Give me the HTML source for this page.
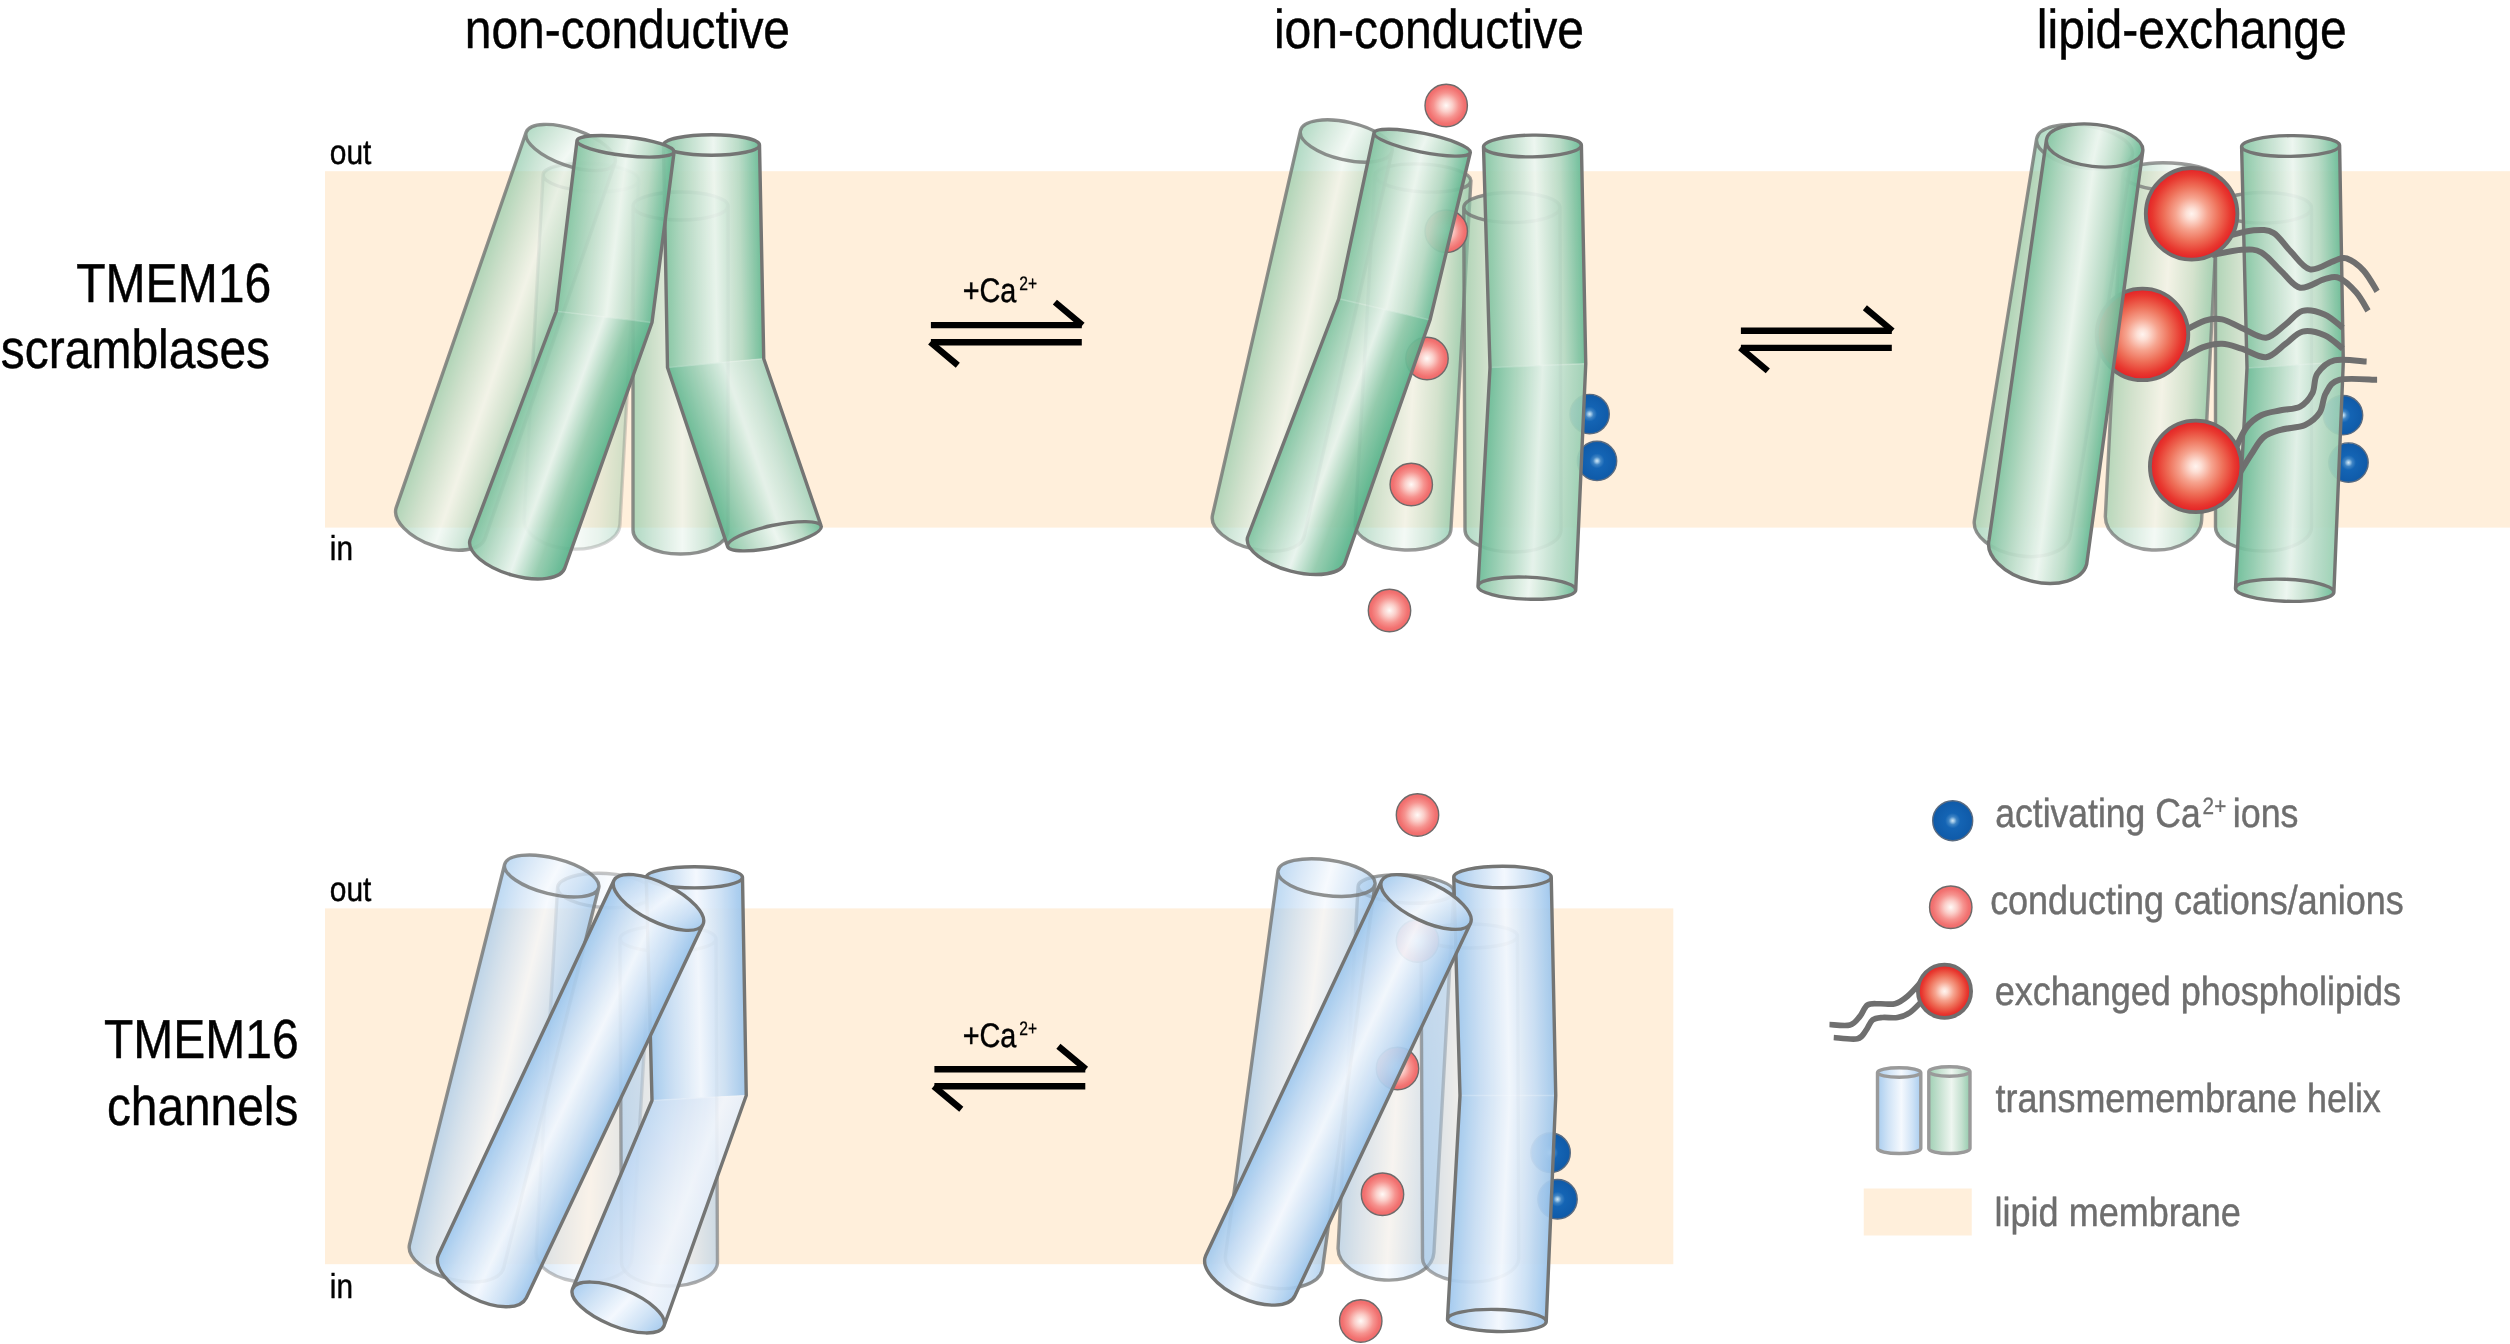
<!DOCTYPE html>
<html lang="en"><head><meta charset="utf-8"><title>TMEM16 scramblases and channels</title>
<style>html,body{margin:0;padding:0;background:#fff;}body{width:2510px;height:1344px;overflow:hidden;font-family:"Liberation Sans",sans-serif;}svg{display:block;}</style></head>
<body>
<svg width="2510" height="1344" viewBox="0 0 2510 1344" font-family="'Liberation Sans', sans-serif">
<defs>
<radialGradient id="pink" cx="0.5" cy="0.5" r="0.5"><stop offset="0" stop-color="#fffaf7"/><stop offset="0.3" stop-color="#fbcfca"/><stop offset="0.6" stop-color="#f6938f"/><stop offset="0.85" stop-color="#f27271"/><stop offset="1" stop-color="#f06a6a"/></radialGradient>
<radialGradient id="blue" cx="0.5" cy="0.5" r="0.5"><stop offset="0" stop-color="#cfe6f5"/><stop offset="0.08" stop-color="#9dc6e6"/><stop offset="0.2" stop-color="#3f84c4"/><stop offset="0.38" stop-color="#1464b4"/><stop offset="1" stop-color="#0f5aa8"/></radialGradient>
<radialGradient id="red" cx="0.5" cy="0.5" r="0.5"><stop offset="0" stop-color="#fff4ef"/><stop offset="0.12" stop-color="#fde0d6"/><stop offset="0.35" stop-color="#f6a48f"/><stop offset="0.6" stop-color="#ee6f58"/><stop offset="0.85" stop-color="#e8382f"/><stop offset="1" stop-color="#e41f26"/></radialGradient>
<linearGradient id="g1" gradientUnits="userSpaceOnUse" x1="533.57" y1="347.11" x2="629.43" y2="352.39"><stop offset="0" stop-color="#84c6a3"/><stop offset="0.22" stop-color="#b4d9c3"/><stop offset="0.52" stop-color="#ecf6ef"/><stop offset="0.78" stop-color="#b6dac4"/><stop offset="1" stop-color="#66ba94"/></linearGradient>
<linearGradient id="g2" gradientUnits="userSpaceOnUse" x1="543.07" y1="174.86" x2="638.93" y2="180.14"><stop offset="0" stop-color="#84c6a3"/><stop offset="0.22" stop-color="#b4d9c3"/><stop offset="0.52" stop-color="#ecf6ef"/><stop offset="0.78" stop-color="#b6dac4"/><stop offset="1" stop-color="#66ba94"/></linearGradient>
<linearGradient id="g3" gradientUnits="userSpaceOnUse" x1="461.19" y1="319.87" x2="550.01" y2="350.63"><stop offset="0" stop-color="#84c6a3"/><stop offset="0.22" stop-color="#b4d9c3"/><stop offset="0.52" stop-color="#ecf6ef"/><stop offset="0.78" stop-color="#b6dac4"/><stop offset="1" stop-color="#66ba94"/></linearGradient>
<linearGradient id="g4" gradientUnits="userSpaceOnUse" x1="526.19" y1="132.12" x2="615.01" y2="162.88"><stop offset="0" stop-color="#84c6a3"/><stop offset="0.22" stop-color="#b4d9c3"/><stop offset="0.52" stop-color="#ecf6ef"/><stop offset="0.78" stop-color="#b6dac4"/><stop offset="1" stop-color="#66ba94"/></linearGradient>
<linearGradient id="g5" gradientUnits="userSpaceOnUse" x1="633" y1="368" x2="728" y2="368"><stop offset="0" stop-color="#84c6a3"/><stop offset="0.22" stop-color="#b4d9c3"/><stop offset="0.52" stop-color="#ecf6ef"/><stop offset="0.78" stop-color="#b6dac4"/><stop offset="1" stop-color="#66ba94"/></linearGradient>
<linearGradient id="g6" gradientUnits="userSpaceOnUse" x1="633" y1="206" x2="728" y2="206"><stop offset="0" stop-color="#84c6a3"/><stop offset="0.22" stop-color="#b4d9c3"/><stop offset="0.52" stop-color="#ecf6ef"/><stop offset="0.78" stop-color="#b6dac4"/><stop offset="1" stop-color="#66ba94"/></linearGradient>
<linearGradient id="g7" gradientUnits="userSpaceOnUse" x1="665.41" y1="254.97" x2="761.72" y2="253.15"><stop offset="0" stop-color="#84c6a3"/><stop offset="0.22" stop-color="#b4d9c3"/><stop offset="0.52" stop-color="#ecf6ef"/><stop offset="0.78" stop-color="#b6dac4"/><stop offset="1" stop-color="#66ba94"/></linearGradient>
<linearGradient id="g8" gradientUnits="userSpaceOnUse" x1="699.43" y1="465.15" x2="790.57" y2="434.22"><stop offset="0" stop-color="#63b891"/><stop offset="0.3" stop-color="#a4d3ba"/><stop offset="0.58" stop-color="#e4f2ea"/><stop offset="0.8" stop-color="#c8e3d4"/><stop offset="1" stop-color="#a6d4bc"/></linearGradient>
<linearGradient id="g9" gradientUnits="userSpaceOnUse" x1="663.5" y1="145" x2="759.5" y2="145"><stop offset="0" stop-color="#84c6a3"/><stop offset="0.22" stop-color="#b4d9c3"/><stop offset="0.52" stop-color="#ecf6ef"/><stop offset="0.78" stop-color="#b6dac4"/><stop offset="1" stop-color="#66ba94"/></linearGradient>
<linearGradient id="g10" gradientUnits="userSpaceOnUse" x1="727.5" y1="546.25" x2="821.25" y2="526.25"><stop offset="0" stop-color="#84c6a3"/><stop offset="0.22" stop-color="#b4d9c3"/><stop offset="0.52" stop-color="#ecf6ef"/><stop offset="0.78" stop-color="#b6dac4"/><stop offset="1" stop-color="#66ba94"/></linearGradient>
<linearGradient id="g11" gradientUnits="userSpaceOnUse" x1="566.68" y1="225.54" x2="663" y2="237.64"><stop offset="0" stop-color="#84c6a3"/><stop offset="0.22" stop-color="#b4d9c3"/><stop offset="0.52" stop-color="#ecf6ef"/><stop offset="0.78" stop-color="#b6dac4"/><stop offset="1" stop-color="#66ba94"/></linearGradient>
<linearGradient id="g12" gradientUnits="userSpaceOnUse" x1="514.96" y1="418.54" x2="606.67" y2="452.08"><stop offset="0" stop-color="#7fc4a1"/><stop offset="0.22" stop-color="#b0d8c1"/><stop offset="0.5" stop-color="#e8f4ed"/><stop offset="0.75" stop-color="#90caab"/><stop offset="1" stop-color="#57b48b"/></linearGradient>
<linearGradient id="g13" gradientUnits="userSpaceOnUse" x1="577" y1="140.7" x2="674.1" y2="151.9"><stop offset="0" stop-color="#84c6a3"/><stop offset="0.22" stop-color="#b4d9c3"/><stop offset="0.52" stop-color="#ecf6ef"/><stop offset="0.78" stop-color="#b6dac4"/><stop offset="1" stop-color="#66ba94"/></linearGradient>
<linearGradient id="g14" gradientUnits="userSpaceOnUse" x1="1365.08" y1="349.75" x2="1460.92" y2="355.25"><stop offset="0" stop-color="#84c6a3"/><stop offset="0.22" stop-color="#b4d9c3"/><stop offset="0.52" stop-color="#ecf6ef"/><stop offset="0.78" stop-color="#b6dac4"/><stop offset="1" stop-color="#66ba94"/></linearGradient>
<linearGradient id="g15" gradientUnits="userSpaceOnUse" x1="1375.08" y1="175.25" x2="1470.92" y2="180.75"><stop offset="0" stop-color="#84c6a3"/><stop offset="0.22" stop-color="#b4d9c3"/><stop offset="0.52" stop-color="#ecf6ef"/><stop offset="0.78" stop-color="#b6dac4"/><stop offset="1" stop-color="#66ba94"/></linearGradient>
<linearGradient id="g16" gradientUnits="userSpaceOnUse" x1="1256.48" y1="322.82" x2="1348.12" y2="343.78"><stop offset="0" stop-color="#84c6a3"/><stop offset="0.22" stop-color="#b4d9c3"/><stop offset="0.52" stop-color="#ecf6ef"/><stop offset="0.78" stop-color="#b6dac4"/><stop offset="1" stop-color="#66ba94"/></linearGradient>
<linearGradient id="g17" gradientUnits="userSpaceOnUse" x1="1300.48" y1="130.52" x2="1392.12" y2="151.48"><stop offset="0" stop-color="#84c6a3"/><stop offset="0.22" stop-color="#b4d9c3"/><stop offset="0.52" stop-color="#ecf6ef"/><stop offset="0.78" stop-color="#b6dac4"/><stop offset="1" stop-color="#66ba94"/></linearGradient>
<linearGradient id="g18" gradientUnits="userSpaceOnUse" x1="1464.38" y1="368.92" x2="1560.5" y2="368.58"><stop offset="0" stop-color="#84c6a3"/><stop offset="0.22" stop-color="#b4d9c3"/><stop offset="0.52" stop-color="#ecf6ef"/><stop offset="0.78" stop-color="#b6dac4"/><stop offset="1" stop-color="#66ba94"/></linearGradient>
<linearGradient id="g19" gradientUnits="userSpaceOnUse" x1="1463.75" y1="207.5" x2="1560" y2="207.5"><stop offset="0" stop-color="#84c6a3"/><stop offset="0.22" stop-color="#b4d9c3"/><stop offset="0.52" stop-color="#ecf6ef"/><stop offset="0.78" stop-color="#b6dac4"/><stop offset="1" stop-color="#66ba94"/></linearGradient>
<linearGradient id="g20" gradientUnits="userSpaceOnUse" x1="1486.74" y1="257.01" x2="1583.58" y2="254.62"><stop offset="0" stop-color="#84c6a3"/><stop offset="0.22" stop-color="#b4d9c3"/><stop offset="0.52" stop-color="#ecf6ef"/><stop offset="0.78" stop-color="#b6dac4"/><stop offset="1" stop-color="#66ba94"/></linearGradient>
<linearGradient id="g21" gradientUnits="userSpaceOnUse" x1="1484.02" y1="474.48" x2="1580.73" y2="479.27"><stop offset="0" stop-color="#6bbc97"/><stop offset="0.28" stop-color="#a8d5bc"/><stop offset="0.55" stop-color="#e4f2ea"/><stop offset="0.8" stop-color="#b8dcc8"/><stop offset="1" stop-color="#98cfb2"/></linearGradient>
<linearGradient id="g22" gradientUnits="userSpaceOnUse" x1="1483.5" y1="146.8" x2="1581.4" y2="145.2"><stop offset="0" stop-color="#84c6a3"/><stop offset="0.22" stop-color="#b4d9c3"/><stop offset="0.52" stop-color="#ecf6ef"/><stop offset="0.78" stop-color="#b6dac4"/><stop offset="1" stop-color="#66ba94"/></linearGradient>
<linearGradient id="g23" gradientUnits="userSpaceOnUse" x1="1478" y1="586.25" x2="1575.75" y2="590"><stop offset="0" stop-color="#84c6a3"/><stop offset="0.22" stop-color="#b4d9c3"/><stop offset="0.52" stop-color="#ecf6ef"/><stop offset="0.78" stop-color="#b6dac4"/><stop offset="1" stop-color="#66ba94"/></linearGradient>
<linearGradient id="g24" gradientUnits="userSpaceOnUse" x1="1356.45" y1="215.41" x2="1450.07" y2="236.62"><stop offset="0" stop-color="#84c6a3"/><stop offset="0.22" stop-color="#b4d9c3"/><stop offset="0.52" stop-color="#ecf6ef"/><stop offset="0.78" stop-color="#b6dac4"/><stop offset="1" stop-color="#66ba94"/></linearGradient>
<linearGradient id="g25" gradientUnits="userSpaceOnUse" x1="1294.69" y1="412.98" x2="1385.94" y2="446.4"><stop offset="0" stop-color="#7fc4a1"/><stop offset="0.22" stop-color="#b0d8c1"/><stop offset="0.5" stop-color="#e8f4ed"/><stop offset="0.75" stop-color="#90caab"/><stop offset="1" stop-color="#57b48b"/></linearGradient>
<linearGradient id="g26" gradientUnits="userSpaceOnUse" x1="1374" y1="132.8" x2="1470.3" y2="152.5"><stop offset="0" stop-color="#84c6a3"/><stop offset="0.22" stop-color="#b4d9c3"/><stop offset="0.52" stop-color="#ecf6ef"/><stop offset="0.78" stop-color="#b6dac4"/><stop offset="1" stop-color="#66ba94"/></linearGradient>
<linearGradient id="g27" gradientUnits="userSpaceOnUse" x1="2114.11" y1="345.03" x2="2210.39" y2="349.97"><stop offset="0" stop-color="#84c6a3"/><stop offset="0.22" stop-color="#b4d9c3"/><stop offset="0.52" stop-color="#ecf6ef"/><stop offset="0.78" stop-color="#b6dac4"/><stop offset="1" stop-color="#66ba94"/></linearGradient>
<linearGradient id="g28" gradientUnits="userSpaceOnUse" x1="2122.86" y1="174.53" x2="2219.14" y2="179.47"><stop offset="0" stop-color="#84c6a3"/><stop offset="0.22" stop-color="#b4d9c3"/><stop offset="0.52" stop-color="#ecf6ef"/><stop offset="0.78" stop-color="#b6dac4"/><stop offset="1" stop-color="#66ba94"/></linearGradient>
<linearGradient id="g29" gradientUnits="userSpaceOnUse" x1="2005.53" y1="329.44" x2="2101.27" y2="345.06"><stop offset="0" stop-color="#84c6a3"/><stop offset="0.22" stop-color="#b4d9c3"/><stop offset="0.52" stop-color="#ecf6ef"/><stop offset="0.78" stop-color="#b6dac4"/><stop offset="1" stop-color="#66ba94"/></linearGradient>
<linearGradient id="g30" gradientUnits="userSpaceOnUse" x1="2036.63" y1="138.79" x2="2132.37" y2="154.41"><stop offset="0" stop-color="#84c6a3"/><stop offset="0.22" stop-color="#b4d9c3"/><stop offset="0.52" stop-color="#ecf6ef"/><stop offset="0.78" stop-color="#b6dac4"/><stop offset="1" stop-color="#66ba94"/></linearGradient>
<linearGradient id="g31" gradientUnits="userSpaceOnUse" x1="2215.5" y1="367.4" x2="2311.5" y2="367.4"><stop offset="0" stop-color="#84c6a3"/><stop offset="0.22" stop-color="#b4d9c3"/><stop offset="0.52" stop-color="#ecf6ef"/><stop offset="0.78" stop-color="#b6dac4"/><stop offset="1" stop-color="#66ba94"/></linearGradient>
<linearGradient id="g32" gradientUnits="userSpaceOnUse" x1="2215.5" y1="207.8" x2="2311.5" y2="207.8"><stop offset="0" stop-color="#84c6a3"/><stop offset="0.22" stop-color="#b4d9c3"/><stop offset="0.52" stop-color="#ecf6ef"/><stop offset="0.78" stop-color="#b6dac4"/><stop offset="1" stop-color="#66ba94"/></linearGradient>
<linearGradient id="g33" gradientUnits="userSpaceOnUse" x1="2244.26" y1="256.51" x2="2341.49" y2="254.49"><stop offset="0" stop-color="#84c6a3"/><stop offset="0.22" stop-color="#b4d9c3"/><stop offset="0.52" stop-color="#ecf6ef"/><stop offset="0.78" stop-color="#b6dac4"/><stop offset="1" stop-color="#66ba94"/></linearGradient>
<linearGradient id="g34" gradientUnits="userSpaceOnUse" x1="2241.24" y1="475.37" x2="2338.61" y2="479.88"><stop offset="0" stop-color="#6bbc97"/><stop offset="0.28" stop-color="#a8d5bc"/><stop offset="0.55" stop-color="#e4f2ea"/><stop offset="0.8" stop-color="#b8dcc8"/><stop offset="1" stop-color="#98cfb2"/></linearGradient>
<linearGradient id="g35" gradientUnits="userSpaceOnUse" x1="2241.6" y1="146.6" x2="2339.6" y2="145.4"><stop offset="0" stop-color="#84c6a3"/><stop offset="0.22" stop-color="#b4d9c3"/><stop offset="0.52" stop-color="#ecf6ef"/><stop offset="0.78" stop-color="#b6dac4"/><stop offset="1" stop-color="#66ba94"/></linearGradient>
<linearGradient id="g36" gradientUnits="userSpaceOnUse" x1="2235.5" y1="588.4" x2="2333.9" y2="592.1"><stop offset="0" stop-color="#84c6a3"/><stop offset="0.22" stop-color="#b4d9c3"/><stop offset="0.52" stop-color="#ecf6ef"/><stop offset="0.78" stop-color="#b6dac4"/><stop offset="1" stop-color="#66ba94"/></linearGradient>
<linearGradient id="g37" gradientUnits="userSpaceOnUse" x1="2017.32" y1="341.82" x2="2115.18" y2="355.48"><stop offset="0" stop-color="#84c6a3"/><stop offset="0.22" stop-color="#b4d9c3"/><stop offset="0.52" stop-color="#ecf6ef"/><stop offset="0.78" stop-color="#b6dac4"/><stop offset="1" stop-color="#66ba94"/></linearGradient>
<linearGradient id="g38" gradientUnits="userSpaceOnUse" x1="2046.4" y1="140" x2="2142.8" y2="151"><stop offset="0" stop-color="#84c6a3"/><stop offset="0.22" stop-color="#b4d9c3"/><stop offset="0.52" stop-color="#ecf6ef"/><stop offset="0.78" stop-color="#b6dac4"/><stop offset="1" stop-color="#66ba94"/></linearGradient>
<linearGradient id="g39" gradientUnits="userSpaceOnUse" x1="546.83" y1="1069.92" x2="642.67" y2="1075.58"><stop offset="0" stop-color="#9fc8ee"/><stop offset="0.22" stop-color="#c6ddf4"/><stop offset="0.52" stop-color="#f3f8fe"/><stop offset="0.78" stop-color="#c9dff5"/><stop offset="1" stop-color="#9bc5ec"/></linearGradient>
<linearGradient id="g40" gradientUnits="userSpaceOnUse" x1="557.58" y1="887.67" x2="653.42" y2="893.33"><stop offset="0" stop-color="#9fc8ee"/><stop offset="0.22" stop-color="#c6ddf4"/><stop offset="0.52" stop-color="#f3f8fe"/><stop offset="0.78" stop-color="#c9dff5"/><stop offset="1" stop-color="#9bc5ec"/></linearGradient>
<linearGradient id="g41" gradientUnits="userSpaceOnUse" x1="457.1" y1="1054.23" x2="551.2" y2="1077.77"><stop offset="0" stop-color="#9fc8ee"/><stop offset="0.22" stop-color="#c6ddf4"/><stop offset="0.52" stop-color="#f3f8fe"/><stop offset="0.78" stop-color="#c9dff5"/><stop offset="1" stop-color="#9bc5ec"/></linearGradient>
<linearGradient id="g42" gradientUnits="userSpaceOnUse" x1="504.65" y1="864.23" x2="598.75" y2="887.77"><stop offset="0" stop-color="#9fc8ee"/><stop offset="0.22" stop-color="#c6ddf4"/><stop offset="0.52" stop-color="#f3f8fe"/><stop offset="0.78" stop-color="#c9dff5"/><stop offset="1" stop-color="#9bc5ec"/></linearGradient>
<linearGradient id="g43" gradientUnits="userSpaceOnUse" x1="620.75" y1="1100.6" x2="716.75" y2="1100.15"><stop offset="0" stop-color="#9fc8ee"/><stop offset="0.22" stop-color="#c6ddf4"/><stop offset="0.52" stop-color="#f3f8fe"/><stop offset="0.78" stop-color="#c9dff5"/><stop offset="1" stop-color="#9bc5ec"/></linearGradient>
<linearGradient id="g44" gradientUnits="userSpaceOnUse" x1="620" y1="938.75" x2="716" y2="938.75"><stop offset="0" stop-color="#9fc8ee"/><stop offset="0.22" stop-color="#c6ddf4"/><stop offset="0.52" stop-color="#f3f8fe"/><stop offset="0.78" stop-color="#c9dff5"/><stop offset="1" stop-color="#9bc5ec"/></linearGradient>
<linearGradient id="g45" gradientUnits="userSpaceOnUse" x1="649.1" y1="988.68" x2="744.4" y2="986.62"><stop offset="0" stop-color="#9fc8ee"/><stop offset="0.22" stop-color="#c6ddf4"/><stop offset="0.52" stop-color="#f3f8fe"/><stop offset="0.78" stop-color="#c9dff5"/><stop offset="1" stop-color="#9bc5ec"/></linearGradient>
<linearGradient id="g46" gradientUnits="userSpaceOnUse" x1="613.66" y1="1185.37" x2="703.72" y2="1220.13"><stop offset="0" stop-color="#bcd7f3"/><stop offset="0.45" stop-color="#dde9f8"/><stop offset="0.75" stop-color="#f0f5fc"/><stop offset="1" stop-color="#e3edf9"/></linearGradient>
<linearGradient id="g47" gradientUnits="userSpaceOnUse" x1="646.25" y1="877.3" x2="742.5" y2="877.3"><stop offset="0" stop-color="#9fc8ee"/><stop offset="0.22" stop-color="#c6ddf4"/><stop offset="0.52" stop-color="#f3f8fe"/><stop offset="0.78" stop-color="#c9dff5"/><stop offset="1" stop-color="#9bc5ec"/></linearGradient>
<linearGradient id="g48" gradientUnits="userSpaceOnUse" x1="572.5" y1="1289" x2="664" y2="1326"><stop offset="0" stop-color="#9fc8ee"/><stop offset="0.22" stop-color="#c6ddf4"/><stop offset="0.52" stop-color="#f3f8fe"/><stop offset="0.78" stop-color="#c9dff5"/><stop offset="1" stop-color="#9bc5ec"/></linearGradient>
<linearGradient id="g49" gradientUnits="userSpaceOnUse" x1="525.9" y1="1068.26" x2="615.1" y2="1110.27"><stop offset="0" stop-color="#9fc8ee"/><stop offset="0.22" stop-color="#c6ddf4"/><stop offset="0.52" stop-color="#f3f8fe"/><stop offset="0.78" stop-color="#c9dff5"/><stop offset="1" stop-color="#9bc5ec"/></linearGradient>
<linearGradient id="g50" gradientUnits="userSpaceOnUse" x1="614" y1="880.3" x2="703" y2="924.5"><stop offset="0" stop-color="#9fc8ee"/><stop offset="0.22" stop-color="#c6ddf4"/><stop offset="0.52" stop-color="#f3f8fe"/><stop offset="0.78" stop-color="#c9dff5"/><stop offset="1" stop-color="#9bc5ec"/></linearGradient>
<linearGradient id="g51" gradientUnits="userSpaceOnUse" x1="1348.07" y1="1066.84" x2="1443.93" y2="1072.16"><stop offset="0" stop-color="#9fc8ee"/><stop offset="0.22" stop-color="#c6ddf4"/><stop offset="0.52" stop-color="#f3f8fe"/><stop offset="0.78" stop-color="#c9dff5"/><stop offset="1" stop-color="#9bc5ec"/></linearGradient>
<linearGradient id="g52" gradientUnits="userSpaceOnUse" x1="1358.07" y1="886.34" x2="1453.93" y2="891.66"><stop offset="0" stop-color="#9fc8ee"/><stop offset="0.22" stop-color="#c6ddf4"/><stop offset="0.52" stop-color="#f3f8fe"/><stop offset="0.78" stop-color="#c9dff5"/><stop offset="1" stop-color="#9bc5ec"/></linearGradient>
<linearGradient id="g53" gradientUnits="userSpaceOnUse" x1="1251.7" y1="1063.17" x2="1348.8" y2="1076.43"><stop offset="0" stop-color="#9fc8ee"/><stop offset="0.22" stop-color="#c6ddf4"/><stop offset="0.52" stop-color="#f3f8fe"/><stop offset="0.78" stop-color="#c9dff5"/><stop offset="1" stop-color="#9bc5ec"/></linearGradient>
<linearGradient id="g54" gradientUnits="userSpaceOnUse" x1="1277.95" y1="870.97" x2="1375.05" y2="884.23"><stop offset="0" stop-color="#9fc8ee"/><stop offset="0.22" stop-color="#c6ddf4"/><stop offset="0.52" stop-color="#f3f8fe"/><stop offset="0.78" stop-color="#c9dff5"/><stop offset="1" stop-color="#9bc5ec"/></linearGradient>
<linearGradient id="g55" gradientUnits="userSpaceOnUse" x1="1421.75" y1="1097.21" x2="1518.12" y2="1096.79"><stop offset="0" stop-color="#9fc8ee"/><stop offset="0.22" stop-color="#c6ddf4"/><stop offset="0.52" stop-color="#f3f8fe"/><stop offset="0.78" stop-color="#c9dff5"/><stop offset="1" stop-color="#9bc5ec"/></linearGradient>
<linearGradient id="g56" gradientUnits="userSpaceOnUse" x1="1421" y1="936" x2="1517.5" y2="936"><stop offset="0" stop-color="#9fc8ee"/><stop offset="0.22" stop-color="#c6ddf4"/><stop offset="0.52" stop-color="#f3f8fe"/><stop offset="0.78" stop-color="#c9dff5"/><stop offset="1" stop-color="#9bc5ec"/></linearGradient>
<linearGradient id="g57" gradientUnits="userSpaceOnUse" x1="1456.89" y1="987.44" x2="1553.49" y2="985.06"><stop offset="0" stop-color="#9fc8ee"/><stop offset="0.22" stop-color="#c6ddf4"/><stop offset="0.52" stop-color="#f3f8fe"/><stop offset="0.78" stop-color="#c9dff5"/><stop offset="1" stop-color="#9bc5ec"/></linearGradient>
<linearGradient id="g58" gradientUnits="userSpaceOnUse" x1="1453.8" y1="1205.63" x2="1550.95" y2="1210.37"><stop offset="0" stop-color="#9fc8ee"/><stop offset="0.22" stop-color="#c6ddf4"/><stop offset="0.52" stop-color="#f3f8fe"/><stop offset="0.78" stop-color="#c9dff5"/><stop offset="1" stop-color="#9bc5ec"/></linearGradient>
<linearGradient id="g59" gradientUnits="userSpaceOnUse" x1="1453.75" y1="877" x2="1551.25" y2="877"><stop offset="0" stop-color="#9fc8ee"/><stop offset="0.22" stop-color="#c6ddf4"/><stop offset="0.52" stop-color="#f3f8fe"/><stop offset="0.78" stop-color="#c9dff5"/><stop offset="1" stop-color="#9bc5ec"/></linearGradient>
<linearGradient id="g60" gradientUnits="userSpaceOnUse" x1="1447.5" y1="1319.25" x2="1546.25" y2="1321.75"><stop offset="0" stop-color="#9fc8ee"/><stop offset="0.22" stop-color="#c6ddf4"/><stop offset="0.52" stop-color="#f3f8fe"/><stop offset="0.78" stop-color="#c9dff5"/><stop offset="1" stop-color="#9bc5ec"/></linearGradient>
<linearGradient id="g61" gradientUnits="userSpaceOnUse" x1="1293.81" y1="1067.86" x2="1382.62" y2="1109.64"><stop offset="0" stop-color="#9fc8ee"/><stop offset="0.22" stop-color="#c6ddf4"/><stop offset="0.52" stop-color="#f3f8fe"/><stop offset="0.78" stop-color="#c9dff5"/><stop offset="1" stop-color="#9bc5ec"/></linearGradient>
<linearGradient id="g62" gradientUnits="userSpaceOnUse" x1="1381.6" y1="880.8" x2="1470.5" y2="923.2"><stop offset="0" stop-color="#9fc8ee"/><stop offset="0.22" stop-color="#c6ddf4"/><stop offset="0.52" stop-color="#f3f8fe"/><stop offset="0.78" stop-color="#c9dff5"/><stop offset="1" stop-color="#9bc5ec"/></linearGradient>
<linearGradient id="g63" gradientUnits="userSpaceOnUse" x1="1877.5" y1="1110.5" x2="1920.8" y2="1110.5"><stop offset="0" stop-color="#a9cdef"/><stop offset="0.25" stop-color="#d0e3f6"/><stop offset="0.55" stop-color="#f5f9fe"/><stop offset="0.8" stop-color="#d0e3f6"/><stop offset="1" stop-color="#a9cdef"/></linearGradient>
<linearGradient id="g64" gradientUnits="userSpaceOnUse" x1="1877.5" y1="1072.5" x2="1920.8" y2="1072.5"><stop offset="0" stop-color="#a9cdef"/><stop offset="0.25" stop-color="#d0e3f6"/><stop offset="0.55" stop-color="#f5f9fe"/><stop offset="0.8" stop-color="#d0e3f6"/><stop offset="1" stop-color="#a9cdef"/></linearGradient>
<linearGradient id="g65" gradientUnits="userSpaceOnUse" x1="1928.8" y1="1110" x2="1970" y2="1110"><stop offset="0" stop-color="#9fd0b4"/><stop offset="0.25" stop-color="#c4e0cf"/><stop offset="0.55" stop-color="#eef6f0"/><stop offset="0.8" stop-color="#c4e0cf"/><stop offset="1" stop-color="#93caac"/></linearGradient>
<linearGradient id="g66" gradientUnits="userSpaceOnUse" x1="1928.8" y1="1071.5" x2="1970" y2="1071.5"><stop offset="0" stop-color="#9fd0b4"/><stop offset="0.25" stop-color="#c4e0cf"/><stop offset="0.55" stop-color="#eef6f0"/><stop offset="0.8" stop-color="#c4e0cf"/><stop offset="1" stop-color="#93caac"/></linearGradient>
</defs>
<rect x="325" y="171.2" width="2185" height="356.4" fill="#ffefdb"/>
<rect x="325" y="908.4" width="1348.3" height="355.8" fill="#ffefdb"/>
<g opacity="0.3"><path d="M543.07 174.86 L524.07 519.36 A48 27 3.16 0 0 619.93 524.64 L638.93 180.14 A48 14 3.16 0 0 543.07 174.86 Z" fill="url(#g1)" stroke="url(#g1)" stroke-width="0.8"/><ellipse cx="591" cy="177.5" rx="48" ry="14" transform="rotate(3.16 591 177.5)" fill="url(#g2)"/></g><g fill="none" stroke="#747574" stroke-width="3.4" stroke-linejoin="round" opacity="0.3"><path d="M543.07 174.86 L524.07 519.36 A48 27 3.16 0 0 619.93 524.64 L638.93 180.14 A48 14 3.16 0 0 543.07 174.86 A48 14 3.16 0 0 638.93 180.14"/></g>
<g opacity="0.64"><path d="M526.19 132.12 L396.19 507.62 A47 24 19.1 0 0 485.01 538.38 L615.01 162.88 A47 18.5 19.1 0 0 526.19 132.12 Z" fill="url(#g3)" stroke="url(#g3)" stroke-width="0.8"/><ellipse cx="570.6" cy="147.5" rx="47" ry="18.5" transform="rotate(19.1 570.6 147.5)" fill="url(#g4)"/></g><g fill="none" stroke="#747574" stroke-width="3.4" stroke-linejoin="round" opacity="0.8"><path d="M526.19 132.12 L396.19 507.62 A47 24 19.1 0 0 485.01 538.38 L615.01 162.88 A47 18.5 19.1 0 0 526.19 132.12 A47 18.5 19.1 0 0 615.01 162.88"/></g>
<g opacity="0.64"><path d="M633 206 L633 530 A47.5 24 0 0 0 728 530 L728 206 A47.5 14 0 0 0 633 206 Z" fill="url(#g5)" stroke="url(#g5)" stroke-width="0.8"/><ellipse cx="680.5" cy="206" rx="47.5" ry="14" transform="rotate(0 680.5 206)" fill="url(#g6)"/></g><g fill="none" stroke="#747574" stroke-width="3.4" stroke-linejoin="round" opacity="0.8"><path d="M633 206 L633 530 A47.5 24 0 0 0 728 530 L728 206 A47.5 14 0 0 0 633 206 A47.5 14 0 0 0 728 206"/></g>
<g opacity="0.93"><path d="M663.5 145 L667.5 367.5 L763.75 358.75 L759.5 145 A48 10.3 0 0 0 663.5 145 Z" fill="url(#g7)" stroke="url(#g7)" stroke-width="0.8"/><path d="M667.5 367.5 L727.5 546.25 A47.93 11 -12.04 0 0 821.25 526.25 L763.75 358.75 Z" fill="url(#g8)" stroke="url(#g8)" stroke-width="0.8"/><path d="M667.5 367.5 L763.75 358.75" stroke="#fff" stroke-opacity="0.22" stroke-width="1.6" fill="none"/><ellipse cx="711.5" cy="145" rx="48" ry="10.3" transform="rotate(0 711.5 145)" fill="url(#g9)"/><ellipse cx="774.38" cy="536.25" rx="47.93" ry="11" transform="rotate(-12.04 774.38 536.25)" fill="url(#g10)"/></g><g fill="none" stroke="#747574" stroke-width="3.4" stroke-linejoin="round"><path d="M663.5 145 L667.5 367.5 L727.5 546.25 A47.93 11 -12.04 0 0 821.25 526.25 L763.75 358.75 L759.5 145 A48 10.3 0 0 0 663.5 145 A48 10.3 0 0 0 759.5 145 M821.25 526.25 A47.93 11 -12.04 0 0 727.5 546.25"/></g>
<g opacity="0.93"><path d="M577 140.7 L556.25 311.25 L652 322.5 L674.1 151.9 A48.87 9.3 6.58 0 0 577 140.7 Z" fill="url(#g11)" stroke="url(#g11)" stroke-width="0.8"/><path d="M556.25 311.25 L470 540 A49.45 22 16.14 0 0 565 567.5 L652 322.5 Z" fill="url(#g12)" stroke="url(#g12)" stroke-width="0.8"/><path d="M556.25 311.25 L652 322.5" stroke="#fff" stroke-opacity="0.22" stroke-width="1.6" fill="none"/><ellipse cx="625.55" cy="146.3" rx="48.87" ry="9.3" transform="rotate(6.58 625.55 146.3)" fill="url(#g13)"/></g><g fill="none" stroke="#747574" stroke-width="3.4" stroke-linejoin="round"><path d="M577 140.7 L556.25 311.25 L470 540 A49.45 22 16.14 0 0 565 567.5 L652 322.5 L674.1 151.9 A48.87 9.3 6.58 0 0 577 140.7 A48.87 9.3 6.58 0 0 674.1 151.9"/></g>
<g opacity="0.58"><path d="M1375.08 175.25 L1355.08 524.25 A48 23 3.28 0 0 1450.92 529.75 L1470.92 180.75 A48 14 3.28 0 0 1375.08 175.25 Z" fill="url(#g14)" stroke="url(#g14)" stroke-width="0.8"/><ellipse cx="1423" cy="178" rx="48" ry="14" transform="rotate(3.28 1423 178)" fill="url(#g15)"/></g><g fill="none" stroke="#747574" stroke-width="3.4" stroke-linejoin="round" opacity="0.72"><path d="M1375.08 175.25 L1355.08 524.25 A48 23 3.28 0 0 1450.92 529.75 L1470.92 180.75 A48 14 3.28 0 0 1375.08 175.25 A48 14 3.28 0 0 1470.92 180.75"/></g>
<g opacity="0.64"><path d="M1300.48 130.52 L1212.48 515.12 A47 24 12.89 0 0 1304.12 536.08 L1392.12 151.48 A47 18.9 12.89 0 0 1300.48 130.52 Z" fill="url(#g16)" stroke="url(#g16)" stroke-width="0.8"/><ellipse cx="1346.3" cy="141" rx="47" ry="18.9" transform="rotate(12.89 1346.3 141)" fill="url(#g17)"/></g><g fill="none" stroke="#747574" stroke-width="3.4" stroke-linejoin="round" opacity="0.8"><path d="M1300.48 130.52 L1212.48 515.12 A47 24 12.89 0 0 1304.12 536.08 L1392.12 151.48 A47 18.9 12.89 0 0 1300.48 130.52 A47 18.9 12.89 0 0 1392.12 151.48"/></g>
<g opacity="0.64"><path d="M1463.75 207.5 L1465 530 A48 22 0 0 0 1561 530 L1560 207.5 A48.12 15 0 0 0 1463.75 207.5 Z" fill="url(#g18)" stroke="url(#g18)" stroke-width="0.8"/><ellipse cx="1511.88" cy="207.5" rx="48.12" ry="15" transform="rotate(0 1511.88 207.5)" fill="url(#g19)"/></g><g fill="none" stroke="#747574" stroke-width="3.4" stroke-linejoin="round" opacity="0.8"><path d="M1463.75 207.5 L1465 530 A48 22 0 0 0 1561 530 L1560 207.5 A48.12 15 0 0 0 1463.75 207.5 A48.12 15 0 0 0 1560 207.5"/></g>
<circle cx="1446.25" cy="231.25" r="21.2" fill="url(#pink)" stroke="#6e6a6a" stroke-width="1.4"/>
<circle cx="1427" cy="358.5" r="21.2" fill="url(#pink)" stroke="#6e6a6a" stroke-width="1.4"/>
<circle cx="1411.25" cy="484.5" r="21.2" fill="url(#pink)" stroke="#6e6a6a" stroke-width="1.4"/>
<circle cx="1589.6" cy="414.1" r="19.7" fill="url(#blue)" stroke="#5a6b80" stroke-width="1.4"/>
<circle cx="1597" cy="460.9" r="19.7" fill="url(#blue)" stroke="#5a6b80" stroke-width="1.4"/>
<g opacity="0.93"><path d="M1483.5 146.8 L1490 367.5 L1585.75 363.75 L1581.4 145.2 A48.96 11 -0.94 0 0 1483.5 146.8 Z" fill="url(#g20)" stroke="url(#g20)" stroke-width="0.8"/><path d="M1490 367.5 L1478 586.25 A48.91 11 2.2 0 0 1575.75 590 L1585.75 363.75 Z" fill="url(#g21)" stroke="url(#g21)" stroke-width="0.8"/><path d="M1490 367.5 L1585.75 363.75" stroke="#fff" stroke-opacity="0.22" stroke-width="1.6" fill="none"/><ellipse cx="1532.45" cy="146" rx="48.96" ry="11" transform="rotate(-0.94 1532.45 146)" fill="url(#g22)"/><ellipse cx="1526.88" cy="588.12" rx="48.91" ry="11" transform="rotate(2.2 1526.88 588.12)" fill="url(#g23)"/></g><g fill="none" stroke="#747574" stroke-width="3.4" stroke-linejoin="round"><path d="M1483.5 146.8 L1490 367.5 L1478 586.25 A48.91 11 2.2 0 0 1575.75 590 L1585.75 363.75 L1581.4 145.2 A48.96 11 -0.94 0 0 1483.5 146.8 A48.96 11 -0.94 0 0 1581.4 145.2 M1575.75 590 A48.91 11 2.2 0 0 1478 586.25"/></g>
<g opacity="0.93"><path d="M1374 132.8 L1338.75 298.75 L1430 320 L1470.3 152.5 A49.15 9.5 11.56 0 0 1374 132.8 Z" fill="url(#g24)" stroke="url(#g24)" stroke-width="0.8"/><path d="M1338.75 298.75 L1247.5 537.5 A50.33 22 14.38 0 0 1345 562.5 L1430 320 Z" fill="url(#g25)" stroke="url(#g25)" stroke-width="0.8"/><path d="M1338.75 298.75 L1430 320" stroke="#fff" stroke-opacity="0.22" stroke-width="1.6" fill="none"/><ellipse cx="1422.15" cy="142.65" rx="49.15" ry="9.5" transform="rotate(11.56 1422.15 142.65)" fill="url(#g26)"/></g><g fill="none" stroke="#747574" stroke-width="3.4" stroke-linejoin="round"><path d="M1374 132.8 L1338.75 298.75 L1247.5 537.5 A50.33 22 14.38 0 0 1345 562.5 L1430 320 L1470.3 152.5 A49.15 9.5 11.56 0 0 1374 132.8 A49.15 9.5 11.56 0 0 1470.3 152.5"/></g>
<circle cx="1446.2" cy="105.5" r="21.2" fill="url(#pink)" stroke="#6e6a6a" stroke-width="1.4"/>
<circle cx="1389.5" cy="610.5" r="21.2" fill="url(#pink)" stroke="#6e6a6a" stroke-width="1.4"/>
<g opacity="0.58"><path d="M2122.86 174.53 L2105.36 515.53 A48.2 32 2.94 0 0 2201.64 520.47 L2219.14 179.47 A48.2 14 2.94 0 0 2122.86 174.53 Z" fill="url(#g27)" stroke="url(#g27)" stroke-width="0.8"/><ellipse cx="2171" cy="177" rx="48.2" ry="14" transform="rotate(2.94 2171 177)" fill="url(#g28)"/></g><g fill="none" stroke="#747574" stroke-width="3.4" stroke-linejoin="round" opacity="0.72"><path d="M2122.86 174.53 L2105.36 515.53 A48.2 32 2.94 0 0 2201.64 520.47 L2219.14 179.47 A48.2 14 2.94 0 0 2122.86 174.53 A48.2 14 2.94 0 0 2219.14 179.47"/></g>
<g opacity="0.64"><path d="M2036.63 138.79 L1974.43 520.09 A48.5 28 9.26 0 0 2070.17 535.71 L2132.37 154.41 A48.5 21 9.26 0 0 2036.63 138.79 Z" fill="url(#g29)" stroke="url(#g29)" stroke-width="0.8"/><ellipse cx="2084.5" cy="146.6" rx="48.5" ry="21" transform="rotate(9.26 2084.5 146.6)" fill="url(#g30)"/></g><g fill="none" stroke="#747574" stroke-width="3.4" stroke-linejoin="round" opacity="0.8"><path d="M2036.63 138.79 L1974.43 520.09 A48.5 28 9.26 0 0 2070.17 535.71 L2132.37 154.41 A48.5 21 9.26 0 0 2036.63 138.79 A48.5 21 9.26 0 0 2132.37 154.41"/></g>
<g opacity="0.64"><path d="M2215.5 207.8 L2215.5 527 A48 24 0 0 0 2311.5 527 L2311.5 207.8 A48 15.3 0 0 0 2215.5 207.8 Z" fill="url(#g31)" stroke="url(#g31)" stroke-width="0.8"/><ellipse cx="2263.5" cy="207.8" rx="48" ry="15.3" transform="rotate(0 2263.5 207.8)" fill="url(#g32)"/></g><g fill="none" stroke="#747574" stroke-width="3.4" stroke-linejoin="round" opacity="0.8"><path d="M2215.5 207.8 L2215.5 527 A48 24 0 0 0 2311.5 527 L2311.5 207.8 A48 15.3 0 0 0 2215.5 207.8 A48 15.3 0 0 0 2311.5 207.8"/></g>
<circle cx="2343" cy="415.2" r="19.7" fill="url(#blue)" stroke="#5a6b80" stroke-width="1.4"/>
<circle cx="2348.5" cy="462.6" r="19.7" fill="url(#blue)" stroke="#5a6b80" stroke-width="1.4"/>
<g opacity="0.93"><path d="M2241.6 146.6 L2247 368 L2343.3 362 L2339.6 145.4 A49 10.4 -0.7 0 0 2241.6 146.6 Z" fill="url(#g33)" stroke="url(#g33)" stroke-width="0.8"/><path d="M2247 368 L2235.5 588.4 A49.23 11 2.15 0 0 2333.9 592.1 L2343.3 362 Z" fill="url(#g34)" stroke="url(#g34)" stroke-width="0.8"/><path d="M2247 368 L2343.3 362" stroke="#fff" stroke-opacity="0.22" stroke-width="1.6" fill="none"/><ellipse cx="2290.6" cy="146" rx="49" ry="10.4" transform="rotate(-0.7 2290.6 146)" fill="url(#g35)"/><ellipse cx="2284.7" cy="590.25" rx="49.23" ry="11" transform="rotate(2.15 2284.7 590.25)" fill="url(#g36)"/></g><g fill="none" stroke="#747574" stroke-width="3.4" stroke-linejoin="round"><path d="M2241.6 146.6 L2247 368 L2235.5 588.4 A49.23 11 2.15 0 0 2333.9 592.1 L2343.3 362 L2339.6 145.4 A49 10.4 -0.7 0 0 2241.6 146.6 A49 10.4 -0.7 0 0 2339.6 145.4 M2333.9 592.1 A49.23 11 2.15 0 0 2235.5 588.4"/></g>
<path d="M2180 333 C2184.17 330.93 2197.98 322.87 2205 320.6 C2212.02 318.33 2216 318.18 2222.1 319.4 C2228.2 320.62 2234.28 324.85 2241.6 327.9 C2248.92 330.95 2258.67 338.3 2266 337.7 C2273.33 337.1 2279.5 328.78 2285.6 324.3 C2291.7 319.82 2296.1 312.43 2302.6 310.8 C2309.1 309.17 2317.88 311.65 2324.6 314.5 C2331.32 317.35 2339.85 325.67 2342.9 327.9" fill="none" stroke="#6f6f6f" stroke-width="6" stroke-linecap="butt"/>
<path d="M2176 362 C2180.43 359.57 2194.92 350.43 2202.6 347.4 C2210.28 344.37 2215.6 343.58 2222.1 343.8 C2228.6 344.02 2234.28 346.47 2241.6 348.7 C2248.92 350.93 2258.67 358.02 2266 357.2 C2273.33 356.38 2279.5 348.07 2285.6 343.8 C2291.7 339.53 2296.1 333.02 2302.6 331.6 C2309.1 330.18 2317.88 332.45 2324.6 335.3 C2331.32 338.15 2339.85 346.47 2342.9 348.7" fill="none" stroke="#6f6f6f" stroke-width="6" stroke-linecap="butt"/>
<circle cx="2142.5" cy="334.4" r="45.8" fill="url(#red)" stroke="#6f6f6f" stroke-width="3.8"/>
<g opacity="0.93"><path d="M2046.4 140 L1989.1 539.6 A50.3 30 14.04 0 0 2086.7 564 L2142.8 151 A48.51 21 6.51 0 0 2046.4 140 Z" fill="url(#g37)" stroke="url(#g37)" stroke-width="0.8"/><ellipse cx="2094.6" cy="145.5" rx="48.51" ry="21" transform="rotate(6.51 2094.6 145.5)" fill="url(#g38)"/></g><g fill="none" stroke="#747574" stroke-width="3.4" stroke-linejoin="round"><path d="M2046.4 140 L1989.1 539.6 A50.3 30 14.04 0 0 2086.7 564 L2142.8 151 A48.51 21 6.51 0 0 2046.4 140 A48.51 21 6.51 0 0 2142.8 151"/></g>
<path d="M2228 236 C2232.3 235.05 2246.23 230.83 2253.8 230.3 C2261.37 229.77 2267.3 229.33 2273.4 232.8 C2279.5 236.27 2284.3 245 2290.4 251.1 C2296.5 257.2 2302.67 267.78 2310 269.4 C2317.33 271.02 2328.3 262.63 2334.4 260.8 C2340.5 258.97 2341.73 256.77 2346.6 258.4 C2351.47 260.03 2358.52 265.12 2363.6 270.6 C2368.68 276.08 2374.85 287.85 2377.1 291.3" fill="none" stroke="#6f6f6f" stroke-width="6" stroke-linecap="butt"/>
<path d="M2212 255 C2216.93 254.13 2233.4 250.25 2241.6 249.8 C2249.8 249.35 2254.68 248.83 2261.2 252.3 C2267.72 255.77 2274.2 264.7 2280.7 270.6 C2287.2 276.5 2292.88 286.28 2300.2 287.7 C2307.52 289.12 2318.1 280.73 2324.6 279.1 C2331.1 277.47 2333.92 275.67 2339.2 277.9 C2344.48 280.13 2351.5 287.02 2356.3 292.5 C2361.1 297.98 2366.05 307.75 2368 310.8" fill="none" stroke="#6f6f6f" stroke-width="6" stroke-linecap="butt"/>
<circle cx="2191.6" cy="213.8" r="45.8" fill="url(#red)" stroke="#6f6f6f" stroke-width="3.8"/>
<path d="M2234 452 C2236.08 447.9 2241.97 433.53 2246.5 427.4 C2251.03 421.27 2255.5 418.05 2261.2 415.2 C2266.9 412.35 2274.2 411.73 2280.7 410.3 C2287.2 408.87 2294.92 409.45 2300.2 406.6 C2305.48 403.75 2309.55 398.68 2312.4 393.2 C2315.25 387.72 2313.63 379.18 2317.3 373.7 C2320.97 368.22 2326.18 362.33 2334.4 360.3 C2342.62 358.27 2361.23 361.3 2366.6 361.5" fill="none" stroke="#6f6f6f" stroke-width="6" stroke-linecap="butt"/>
<path d="M2238 476 C2240.23 472.37 2247.13 460.68 2251.4 454.2 C2255.67 447.72 2258.72 441.17 2263.6 437.1 C2268.48 433.03 2273.78 431.83 2280.7 429.8 C2287.62 427.77 2298.6 427.75 2305.1 424.9 C2311.6 422.05 2316.25 417.98 2319.7 412.7 C2323.15 407.42 2322.55 398.68 2325.8 393.2 C2329.05 387.72 2330.65 382.03 2339.2 379.8 C2347.75 377.57 2370.78 379.8 2377.1 379.8" fill="none" stroke="#6f6f6f" stroke-width="6" stroke-linecap="butt"/>
<circle cx="2195.7" cy="466.4" r="45.8" fill="url(#red)" stroke="#6f6f6f" stroke-width="3.8"/>
<g opacity="0.42"><path d="M557.58 887.67 L536.08 1252.17 A48 27 3.38 0 0 631.92 1257.83 L653.42 893.33 A48 17 3.38 0 0 557.58 887.67 Z" fill="url(#g39)" stroke="url(#g39)" stroke-width="0.8"/><ellipse cx="605.5" cy="890.5" rx="48" ry="17" transform="rotate(3.38 605.5 890.5)" fill="url(#g40)"/></g><g fill="none" stroke="#747574" stroke-width="3.4" stroke-linejoin="round" opacity="0.42"><path d="M557.58 887.67 L536.08 1252.17 A48 27 3.38 0 0 631.92 1257.83 L653.42 893.33 A48 17 3.38 0 0 557.58 887.67 A48 17 3.38 0 0 653.42 893.33"/></g>
<g opacity="0.68"><path d="M504.65 864.23 L409.55 1244.23 A48.5 24 14.05 0 0 503.65 1267.77 L598.75 887.77 A48.5 18 14.05 0 0 504.65 864.23 Z" fill="url(#g41)" stroke="url(#g41)" stroke-width="0.8"/><ellipse cx="551.7" cy="876" rx="48.5" ry="18" transform="rotate(14.05 551.7 876)" fill="url(#g42)"/></g><g fill="none" stroke="#747574" stroke-width="3.4" stroke-linejoin="round" opacity="0.8"><path d="M504.65 864.23 L409.55 1244.23 A48.5 24 14.05 0 0 503.65 1267.77 L598.75 887.77 A48.5 18 14.05 0 0 504.65 864.23 A48.5 18 14.05 0 0 598.75 887.77"/></g>
<g opacity="0.5"><path d="M620 938.75 L621.5 1262 A48 24 0 0 0 717.5 1262 L716 938.75 A48 13 0 0 0 620 938.75 Z" fill="url(#g43)" stroke="url(#g43)" stroke-width="0.8"/><ellipse cx="668" cy="938.75" rx="48" ry="13" transform="rotate(0 668 938.75)" fill="url(#g44)"/></g><g fill="none" stroke="#747574" stroke-width="3.4" stroke-linejoin="round" opacity="0.6"><path d="M620 938.75 L621.5 1262 A48 24 0 0 0 717.5 1262 L716 938.75 A48 13 0 0 0 620 938.75 A48 13 0 0 0 716 938.75"/></g>
<g opacity="0.92"><path d="M646.25 877.3 L652 1100.5 L746.25 1095.5 L742.5 877.3 A48.12 10.6 0 0 0 646.25 877.3 Z" fill="url(#g45)" stroke="url(#g45)" stroke-width="0.8"/><path d="M652 1100.5 L572.5 1289 A49.35 19 22.02 0 0 664 1326 L746.25 1095.5 Z" fill="url(#g46)" stroke="url(#g46)" stroke-width="0.8"/><path d="M652 1100.5 L746.25 1095.5" stroke="#fff" stroke-opacity="0.22" stroke-width="1.6" fill="none"/><ellipse cx="694.38" cy="877.3" rx="48.12" ry="10.6" transform="rotate(0 694.38 877.3)" fill="url(#g47)"/><ellipse cx="618.25" cy="1307.5" rx="49.35" ry="19" transform="rotate(22.02 618.25 1307.5)" fill="url(#g48)"/></g><g fill="none" stroke="#747574" stroke-width="3.4" stroke-linejoin="round"><path d="M646.25 877.3 L652 1100.5 L572.5 1289 A49.35 19 22.02 0 0 664 1326 L746.25 1095.5 L742.5 877.3 A48.12 10.6 0 0 0 646.25 877.3 A48.12 10.6 0 0 0 742.5 877.3 M664 1326 A49.35 19 22.02 0 0 572.5 1289"/></g>
<g opacity="0.93"><path d="M614 880.3 L438.75 1254.25 A48.91 24 26.57 0 0 526.25 1298 L703 924.5 A49.69 19.5 26.41 0 0 614 880.3 Z" fill="url(#g49)" stroke="url(#g49)" stroke-width="0.8"/><ellipse cx="658.5" cy="902.4" rx="49.69" ry="19.5" transform="rotate(26.41 658.5 902.4)" fill="url(#g50)"/></g><g fill="none" stroke="#747574" stroke-width="3.4" stroke-linejoin="round"><path d="M614 880.3 L438.75 1254.25 A48.91 24 26.57 0 0 526.25 1298 L703 924.5 A49.69 19.5 26.41 0 0 614 880.3 A49.69 19.5 26.41 0 0 703 924.5"/></g>
<g opacity="0.6"><path d="M1358.07 886.34 L1338.07 1247.34 A48 30 3.17 0 0 1433.93 1252.66 L1453.93 891.66 A48 14 3.17 0 0 1358.07 886.34 Z" fill="url(#g51)" stroke="url(#g51)" stroke-width="0.8"/><ellipse cx="1406" cy="889" rx="48" ry="14" transform="rotate(3.17 1406 889)" fill="url(#g52)"/></g><g fill="none" stroke="#747574" stroke-width="3.4" stroke-linejoin="round" opacity="0.7"><path d="M1358.07 886.34 L1338.07 1247.34 A48 30 3.17 0 0 1433.93 1252.66 L1453.93 891.66 A48 14 3.17 0 0 1358.07 886.34 A48 14 3.17 0 0 1453.93 891.66"/></g>
<g opacity="0.68"><path d="M1277.95 870.97 L1225.45 1255.37 A49 26 7.78 0 0 1322.55 1268.63 L1375.05 884.23 A49 17.8 7.78 0 0 1277.95 870.97 Z" fill="url(#g53)" stroke="url(#g53)" stroke-width="0.8"/><ellipse cx="1326.5" cy="877.6" rx="49" ry="17.8" transform="rotate(7.78 1326.5 877.6)" fill="url(#g54)"/></g><g fill="none" stroke="#747574" stroke-width="3.4" stroke-linejoin="round" opacity="0.8"><path d="M1277.95 870.97 L1225.45 1255.37 A49 26 7.78 0 0 1322.55 1268.63 L1375.05 884.23 A49 17.8 7.78 0 0 1277.95 870.97 A49 17.8 7.78 0 0 1375.05 884.23"/></g>
<g opacity="0.5"><path d="M1421 936 L1422.5 1258 A48.12 24 0 0 0 1518.75 1258 L1517.5 936 A48.25 12 0 0 0 1421 936 Z" fill="url(#g55)" stroke="url(#g55)" stroke-width="0.8"/><ellipse cx="1469.25" cy="936" rx="48.25" ry="12" transform="rotate(0 1469.25 936)" fill="url(#g56)"/></g><g fill="none" stroke="#747574" stroke-width="3.4" stroke-linejoin="round" opacity="0.6"><path d="M1421 936 L1422.5 1258 A48.12 24 0 0 0 1518.75 1258 L1517.5 936 A48.25 12 0 0 0 1421 936 A48.25 12 0 0 0 1517.5 936"/></g>
<circle cx="1417.5" cy="941" r="21.2" fill="url(#pink)" stroke="#6e6a6a" stroke-width="1.4"/>
<circle cx="1397.5" cy="1068.5" r="21.2" fill="url(#pink)" stroke="#6e6a6a" stroke-width="1.4"/>
<circle cx="1382.5" cy="1194.25" r="21.2" fill="url(#pink)" stroke="#6e6a6a" stroke-width="1.4"/>
<circle cx="1550.6" cy="1152.75" r="19.7" fill="url(#blue)" stroke="#5a6b80" stroke-width="1.4"/>
<circle cx="1557.5" cy="1199.25" r="19.7" fill="url(#blue)" stroke="#5a6b80" stroke-width="1.4"/>
<g opacity="0.93"><path d="M1453.75 877 L1460 1095.5 L1555.75 1095.5 L1551.25 877 A48.75 10.7 0 0 0 1453.75 877 Z" fill="url(#g57)" stroke="url(#g57)" stroke-width="0.8"/><path d="M1460 1095.5 L1447.5 1319.25 A49.39 11 1.45 0 0 1546.25 1321.75 L1555.75 1095.5 Z" fill="url(#g58)" stroke="url(#g58)" stroke-width="0.8"/><path d="M1460 1095.5 L1555.75 1095.5" stroke="#fff" stroke-opacity="0.22" stroke-width="1.6" fill="none"/><ellipse cx="1502.5" cy="877" rx="48.75" ry="10.7" transform="rotate(0 1502.5 877)" fill="url(#g59)"/><ellipse cx="1496.88" cy="1320.5" rx="49.39" ry="11" transform="rotate(1.45 1496.88 1320.5)" fill="url(#g60)"/></g><g fill="none" stroke="#747574" stroke-width="3.4" stroke-linejoin="round"><path d="M1453.75 877 L1460 1095.5 L1447.5 1319.25 A49.39 11 1.45 0 0 1546.25 1321.75 L1555.75 1095.5 L1551.25 877 A48.75 10.7 0 0 0 1453.75 877 A48.75 10.7 0 0 0 1551.25 877 M1546.25 1321.75 A49.39 11 1.45 0 0 1447.5 1319.25"/></g>
<g opacity="0.93"><path d="M1381.6 880.8 L1205.75 1255.5 A48.9 24 24.14 0 0 1295 1295.5 L1470.5 923.2 A49.25 19.5 25.5 0 0 1381.6 880.8 Z" fill="url(#g61)" stroke="url(#g61)" stroke-width="0.8"/><ellipse cx="1426.05" cy="902" rx="49.25" ry="19.5" transform="rotate(25.5 1426.05 902)" fill="url(#g62)"/></g><g fill="none" stroke="#747574" stroke-width="3.4" stroke-linejoin="round"><path d="M1381.6 880.8 L1205.75 1255.5 A48.9 24 24.14 0 0 1295 1295.5 L1470.5 923.2 A49.25 19.5 25.5 0 0 1381.6 880.8 A49.25 19.5 25.5 0 0 1470.5 923.2"/></g>
<circle cx="1417.5" cy="815" r="21.2" fill="url(#pink)" stroke="#6e6a6a" stroke-width="1.4"/>
<circle cx="1360.75" cy="1321" r="21.2" fill="url(#pink)" stroke="#6e6a6a" stroke-width="1.4"/>
<g transform="translate(0 0)" stroke="#000" stroke-width="6.4" fill="none" stroke-linejoin="miter" stroke-miterlimit="10"><path d="M930.9 325.1 L1081.8 325.1"/><path d="M1054.9 302.1 L1082.5 325.2"/><path d="M1081.8 342.2 L930.9 342.2"/><path d="M957.8 365.2 L930.2 342.1"/></g>
<g transform="translate(810 5.7)" stroke="#000" stroke-width="6.4" fill="none" stroke-linejoin="miter" stroke-miterlimit="10"><path d="M930.9 325.1 L1081.8 325.1"/><path d="M1054.9 302.1 L1082.5 325.2"/><path d="M1081.8 342.2 L930.9 342.2"/><path d="M957.8 365.2 L930.2 342.1"/></g>
<g transform="translate(3.5 744.1)" stroke="#000" stroke-width="6.4" fill="none" stroke-linejoin="miter" stroke-miterlimit="10"><path d="M930.9 325.1 L1081.8 325.1"/><path d="M1054.9 302.1 L1082.5 325.2"/><path d="M1081.8 342.2 L930.9 342.2"/><path d="M957.8 365.2 L930.2 342.1"/></g>
<g opacity="0.999" text-rendering="geometricPrecision">
<text transform="translate(464.73 47.5) scale(0.8721 1)" font-size="55" fill="#000" stroke="#000" stroke-width="0.45" vector-effect="non-scaling-stroke">non-conductive</text>
<text transform="translate(1273.91 47.5) scale(0.8744 1)" font-size="55" fill="#000" stroke="#000" stroke-width="0.45" vector-effect="non-scaling-stroke">ion-conductive</text>
<text transform="translate(2036.87 47.5) scale(0.8737 1)" font-size="55" fill="#000" stroke="#000" stroke-width="0.45" vector-effect="non-scaling-stroke">lipid-exchange</text>
<text transform="translate(76.15 301.8) scale(0.8743 1)" font-size="55" fill="#000" stroke="#000" stroke-width="0.45" vector-effect="non-scaling-stroke">TMEM16</text>
<text transform="translate(0.79 368.3) scale(0.8722 1)" font-size="55" fill="#000" stroke="#000" stroke-width="0.45" vector-effect="non-scaling-stroke">scramblases</text>
<text transform="translate(103.97 1057.8) scale(0.8724 1)" font-size="55" fill="#000" stroke="#000" stroke-width="0.45" vector-effect="non-scaling-stroke">TMEM16</text>
<text transform="translate(106.92 1124.7) scale(0.8694 1)" font-size="55" fill="#000" stroke="#000" stroke-width="0.45" vector-effect="non-scaling-stroke">channels</text>
<text transform="translate(329.84 163.85) scale(0.8667 1)" font-size="34.5" fill="#000" stroke="#000" stroke-width="0.45" vector-effect="non-scaling-stroke">out</text>
<text transform="translate(329.83 559.9) scale(0.8622 1)" font-size="34.5" fill="#000" stroke="#000" stroke-width="0.45" vector-effect="non-scaling-stroke">in</text>
<text transform="translate(329.84 900.8) scale(0.8667 1)" font-size="34.5" fill="#000" stroke="#000" stroke-width="0.45" vector-effect="non-scaling-stroke">out</text>
<text transform="translate(329.83 1298) scale(0.8622 1)" font-size="34.5" fill="#000" stroke="#000" stroke-width="0.45" vector-effect="non-scaling-stroke">in</text>
<text transform="translate(962.66 301.6) scale(0.8474 1)" font-size="34" fill="#000" stroke="#000" stroke-width="0.45" vector-effect="non-scaling-stroke">+Ca</text>
<text transform="translate(1019.18 290.1) scale(0.8050 1)" font-size="19.5" fill="#000" stroke="#000" stroke-width="0.3" vector-effect="non-scaling-stroke">2+</text>
<text transform="translate(962.66 1046.8) scale(0.8474 1)" font-size="34" fill="#000" stroke="#000" stroke-width="0.45" vector-effect="non-scaling-stroke">+Ca</text>
<text transform="translate(1019.18 1035.3) scale(0.8050 1)" font-size="19.5" fill="#000" stroke="#000" stroke-width="0.3" vector-effect="non-scaling-stroke">2+</text>
<text transform="translate(1995.29 826.6) scale(0.8772 1)" font-size="40.5" fill="#6e6e6e" stroke="#6e6e6e" stroke-width="0.45" vector-effect="non-scaling-stroke">activating Ca</text>
<text transform="translate(2202.62 814) scale(0.8798 1)" font-size="23.6" fill="#6e6e6e" stroke="#6e6e6e" stroke-width="0.3" vector-effect="non-scaling-stroke">2+</text>
<text transform="translate(2232.87 826.6) scale(0.8825 1)" font-size="40.5" fill="#6e6e6e" stroke="#6e6e6e" stroke-width="0.45" vector-effect="non-scaling-stroke">ions</text>
<text transform="translate(1990.16 914.2) scale(0.8895 1)" font-size="40.4" fill="#6e6e6e" stroke="#6e6e6e" stroke-width="0.45" vector-effect="non-scaling-stroke">conducting cations/anions</text>
<text transform="translate(1994.67 1005) scale(0.8912 1)" font-size="40.4" fill="#6e6e6e" stroke="#6e6e6e" stroke-width="0.45" vector-effect="non-scaling-stroke">exchanged phospholipids</text>
<text transform="translate(1995.58 1112.4) scale(0.8892 1)" font-size="40.4" fill="#6e6e6e" stroke="#6e6e6e" stroke-width="0.45" vector-effect="non-scaling-stroke">transmemembrane helix</text>
<text transform="translate(1994.59 1225.7) scale(0.8914 1)" font-size="40.4" fill="#6e6e6e" stroke="#6e6e6e" stroke-width="0.45" vector-effect="non-scaling-stroke">lipid membrane</text>
</g>
<circle cx="1952.7" cy="820.7" r="20" fill="url(#blue)" stroke="#5a6b80" stroke-width="1.4"/>
<circle cx="1950.75" cy="907.25" r="21.2" fill="url(#pink)" stroke="#6e6a6a" stroke-width="1.4"/>
<path d="M1921 982 C1918.75 984.38 1911.83 992.62 1907.5 996.25 C1903.17 999.88 1899.58 1002.5 1895 1003.75 C1890.42 1005 1884.58 1003.54 1880 1003.75 C1875.42 1003.96 1870.83 1002.92 1867.5 1005 C1864.17 1007.08 1862.92 1012.92 1860 1016.25 C1857.08 1019.58 1855.08 1023.62 1850 1025 C1844.92 1026.38 1832.92 1024.58 1829.5 1024.5" fill="none" stroke="#6f6f6f" stroke-width="5.7" stroke-linecap="butt"/>
<path d="M1923 1000 C1920.83 1002.08 1914.25 1009.58 1910 1012.5 C1905.75 1015.42 1902.08 1016.67 1897.5 1017.5 C1892.92 1018.33 1886.67 1017.08 1882.5 1017.5 C1878.33 1017.92 1875.21 1017.92 1872.5 1020 C1869.79 1022.08 1868.75 1026.88 1866.25 1030 C1863.75 1033.12 1862.92 1037.5 1857.5 1038.75 C1852.08 1040 1837.71 1037.71 1833.75 1037.5" fill="none" stroke="#6f6f6f" stroke-width="5.7" stroke-linecap="butt"/>
<circle cx="1944.5" cy="991.25" r="26.6" fill="url(#red)" stroke="#6f6f6f" stroke-width="3.8"/>
<g><path d="M1877.5 1072.5 L1877.5 1148.5 A21.65 5 0 0 0 1920.8 1148.5 L1920.8 1072.5 A21.65 4.8 0 0 0 1877.5 1072.5 Z" fill="url(#g63)" stroke="url(#g63)" stroke-width="0.8"/><ellipse cx="1899.15" cy="1072.5" rx="21.65" ry="4.8" transform="rotate(0 1899.15 1072.5)" fill="url(#g64)"/></g><g fill="none" stroke="#9a9a9a" stroke-width="3.4" stroke-linejoin="round"><path d="M1877.5 1072.5 L1877.5 1148.5 A21.65 5 0 0 0 1920.8 1148.5 L1920.8 1072.5 A21.65 4.8 0 0 0 1877.5 1072.5 A21.65 4.8 0 0 0 1920.8 1072.5"/></g>
<g><path d="M1928.8 1071.5 L1928.8 1148.5 A20.6 5 0 0 0 1970 1148.5 L1970 1071.5 A20.6 4.8 0 0 0 1928.8 1071.5 Z" fill="url(#g65)" stroke="url(#g65)" stroke-width="0.8"/><ellipse cx="1949.4" cy="1071.5" rx="20.6" ry="4.8" transform="rotate(0 1949.4 1071.5)" fill="url(#g66)"/></g><g fill="none" stroke="#9a9a9a" stroke-width="3.4" stroke-linejoin="round"><path d="M1928.8 1071.5 L1928.8 1148.5 A20.6 5 0 0 0 1970 1148.5 L1970 1071.5 A20.6 4.8 0 0 0 1928.8 1071.5 A20.6 4.8 0 0 0 1970 1071.5"/></g>
<rect x="1863.75" y="1188.5" width="108" height="47" fill="#ffefdb"/>
</svg>
</body></html>
